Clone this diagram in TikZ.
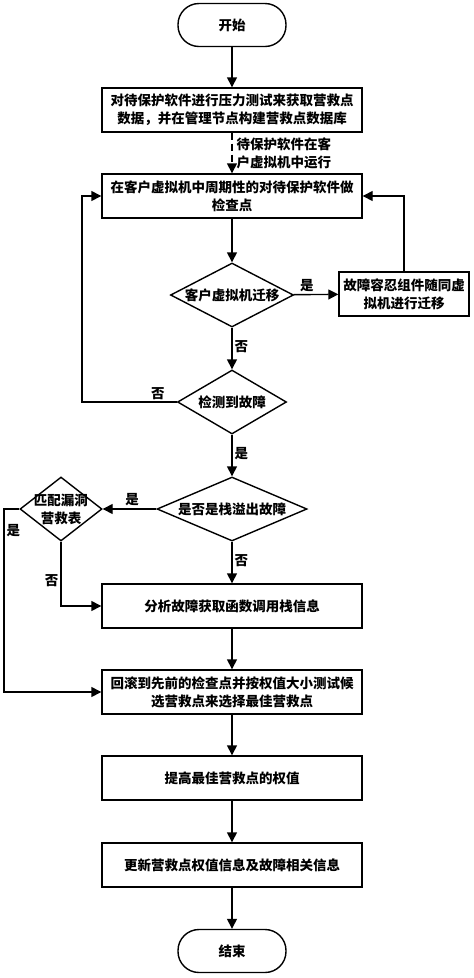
\documentclass[tikz,border=0pt]{standalone}
\usepackage{fontspec}
\setmainfont{Noto Sans CJK SC}
\usetikzlibrary{arrows.meta,shapes.geometric}

\begin{document}
\begin{tikzpicture}[x=1pt, y=-1pt,
	every node/.style={font=\bfseries\fontsize{13.5}{18}\selectfont},
	term/.style={draw, line width=1.4pt, rounded corners=21pt, minimum width=108pt, minimum height=43pt},
	proc/.style={draw, line width=1.4pt, minimum width=260pt, minimum height=44pt, align=center, inner sep=1pt},
	cond/.style={draw, line width=1.4pt, diamond, inner sep=0pt, align=center},
	arr/.style={line width=1.4pt, -{Triangle[length=10pt, width=10pt]}},
	lbl/.style={inner sep=2pt}]
			%%%%% START %%%%%
			\useasboundingbox (0, 0) rectangle (474, 978);
			
			\node[term] (start) at (232, 25) {开始};
			\node[proc] (prep) at (232, 110) {对待保护软件进行压力测试来获取营救点\\数据，并在管理节点构建营救点数据库};
			\node[proc] (ckpt) at (232, 196) {在客户虚拟机中周期性的对待保护软件做\\检查点};
			
			\node[cond, minimum width=123pt, minimum height=64pt, shape aspect=1.9] (mig) at (232, 295) {客户虚拟机迁移};
			\node[proc, minimum width=130pt] (ft) at (404, 294) {故障容忍组件随同虚\\拟机进行迁移};
			\node[cond, minimum width=109pt, minimum height=64pt, shape aspect=1.7] (det) at (232, 402) {检测到故障};
			
			\node[cond, minimum width=150pt, minimum height=64pt, shape aspect=2.3] (so) at (232, 509) {是否是栈溢出故障};
			\node[cond, minimum width=82pt, minimum height=64pt, shape aspect=1.28, inner sep=-7pt] (match) at (61, 509) {匹配漏洞\\营救表};
			
			\node[proc] (ana) at (232, 606) {分析故障获取函数调用栈信息};
			\node[proc] (rb) at (232, 692) {回滚到先前的检查点并按权值大小测试候\\选营救点来选择最佳营救点};
			\node[proc] (raise) at (232, 778) {提高最佳营救点的权值};
			\node[proc] (upd) at (232, 865) {更新营救点权值信息及故障相关信息};
			\node[term] (end) at (232, 951) {结束};
			
			\coordinate (lp) at (82, 402);
			\coordinate (rp) at (4, 509);
			
			% main flow
			\draw[arr] (start) -- (prep);
			\draw[arr, dash pattern=on 7pt off 4pt] (prep) -- node[lbl, right, align=left, xshift=2pt] {待保护软件在客\\户虚拟机中运行} (ckpt);
			\draw[arr] (ckpt) -- (mig);
			\draw[arr] (mig) -- node[lbl, above, pos=0.3] {是} (ft);
			\draw[arr] (ft.north) |- (ckpt.east);
			\draw[arr] (mig) -- node[lbl, right, pos=0.45] {否} (det);
			\draw[arr] (det.west) -- node[lbl, above, pos=0.2] {否} (lp) |- (ckpt.west);
			\draw[arr] (det) -- node[lbl, right, pos=0.45] {是} (so);
			
			% stack overflow branch
			\draw[arr] (so.west) -- node[lbl, above, pos=0.45] {是} (match.east);
			\draw[arr] (match.west) -- (rp) |- node[lbl, right, pos=0.06] {是} (rb.west);
			\draw[arr] (match.south) |- node[lbl, left, pos=0.3] {否} (ana.west);
			\draw[arr] (so) -- node[lbl, right, pos=0.45] {否} (ana);
			
			\draw[arr] (ana) -- (rb);
			\draw[arr] (rb) -- (raise);
			\draw[arr] (raise) -- (upd);
			\draw[arr] (upd) -- (end);
			%%%%% END %%%%%
\end{tikzpicture}
\end{document}
